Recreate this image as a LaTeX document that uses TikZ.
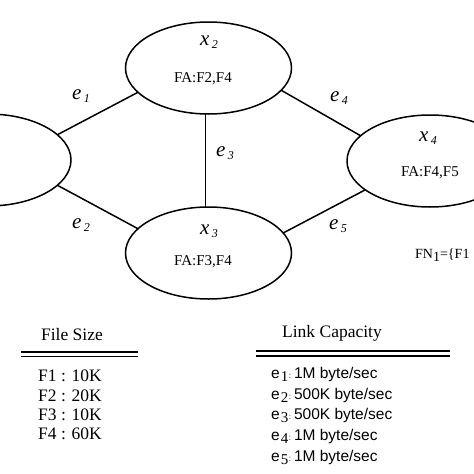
\documentclass[tikz,border=0pt]{standalone}
\usepackage{fontspec}
\setmainfont{Liberation Serif}
\setsansfont{Liberation Sans}
\usetikzlibrary{shapes.geometric}
\newcommand{\lbl}[2]{{\itshape #1\kern2.5pt\raisebox{-3pt}{\fontsize{12}{12}\selectfont #2}}}
\newcommand{\lk}[2]{{\sffamily e\kern1pt\raisebox{-3pt}{\rmfamily\fontsize{15}{15}\selectfont #1}\kern0.5pt{\fontsize{8}{8}\selectfont:}\kern3pt #2}}
\begin{document}
\begin{tikzpicture}[x=1pt,y=-1pt,
  hostnode/.style={draw,ellipse,line width=1.5pt,inner sep=0pt,outer sep=0pt,minimum width=166pt,minimum height=92pt},
  link/.style={line width=1.5pt},
  namelbl/.style={font=\fontsize{21}{21}\selectfont,inner sep=0pt},
  falbl/.style={font=\fontsize{15}{15}\selectfont,inner sep=0pt},
  tbl/.style={font=\fontsize{17.5}{17.5}\selectfont,inner sep=0pt},
  tline/.style={line width=1.5pt},
  capline/.style={font=\fontsize{15.5}{15.5}\selectfont,inner sep=0pt,anchor=west}]
\useasboundingbox (0,0) rectangle (474,474);
\clip (0,0) rectangle (474,474);
\node[hostnode] (x1) at (-12,160) {};
\node[hostnode] (x2) at (208.5,68) {};
\node[hostnode] (x3) at (208.5,253) {};
\node[hostnode] (x4) at (430,161) {};
\draw[link] (x1.20.6) -- (x2.199.4);
\draw[link] (x1.340) -- (x3.161.7);
\draw[link] (x2.266) -- (x3.94);
\draw[link] (x2.343) -- (x4.160.8);
\draw[link] (x3.15.7) -- (x4.204.8);
\node[namelbl] (n2) at (209,42) {\lbl{x}{2}};
\node[falbl] (f2) at (203,79) {FA:F2,F4};
\node[namelbl] (n3) at (209,231) {\lbl{x}{3}};
\node[falbl] (f3) at (203,262) {FA:F3,F4};
\node[namelbl] (n4) at (428,138) {\lbl{x}{4}};
\node[falbl] (f4) at (430,173) {FA:F4,F5};
\node[namelbl] (l1) at (81,96) {\lbl{e}{1}};
\node[namelbl] (l2) at (81,225) {\lbl{e}{2}};
\node[namelbl] (l3) at (225,153) {\lbl{e}{3}};
\node[namelbl] (l4) at (339,98) {\lbl{e}{4}};
\node[namelbl] (l5) at (338,226) {\lbl{e}{5}};
\node[font=\fontsize{14}{14}\selectfont,inner sep=0pt,anchor=west] (fn) at (415,255) {FN\raisebox{-3pt}{1}=\{F1};
\node[tbl] (fs) at (72,335) {File Size};
\coordinate (fsa) at (21,352); \coordinate (fsb) at (138,352);
\coordinate (fsc) at (21,356.5); \coordinate (fsd) at (138,356.5);
\draw[tline] (fsa) -- (fsb);
\draw[tline] (fsc) -- (fsd);
\node[tbl,anchor=west] (s1) at (38,376) {F1 : 10K};
\node[tbl,anchor=west] (s2) at (38,395.5) {F2 : 20K};
\node[tbl,anchor=west] (s3) at (38,415) {F3 : 10K};
\node[tbl,anchor=west] (s4) at (38,434) {F4 : 60K};
\node[tbl] (lc) at (332,333) {Link Capacity};
\coordinate (lca) at (256,351); \coordinate (lcb) at (450,351);
\coordinate (lcc) at (256,356); \coordinate (lcd) at (450,356);
\draw[tline] (lca) -- (lcb);
\draw[tline] (lcc) -- (lcd);
\node[capline] (c1) at (271,374) {\lk{1}{1M byte/sec}};
\node[capline] (c2) at (271,395) {\lk{2}{500K byte/sec}};
\node[capline] (c3) at (271,415.5) {\lk{3}{500K byte/sec}};
\node[capline] (c4) at (271,436) {\lk{4}{1M byte/sec}};
\node[capline] (c5) at (271,457) {\lk{5}{1M byte/sec}};
\end{tikzpicture}
\end{document}
